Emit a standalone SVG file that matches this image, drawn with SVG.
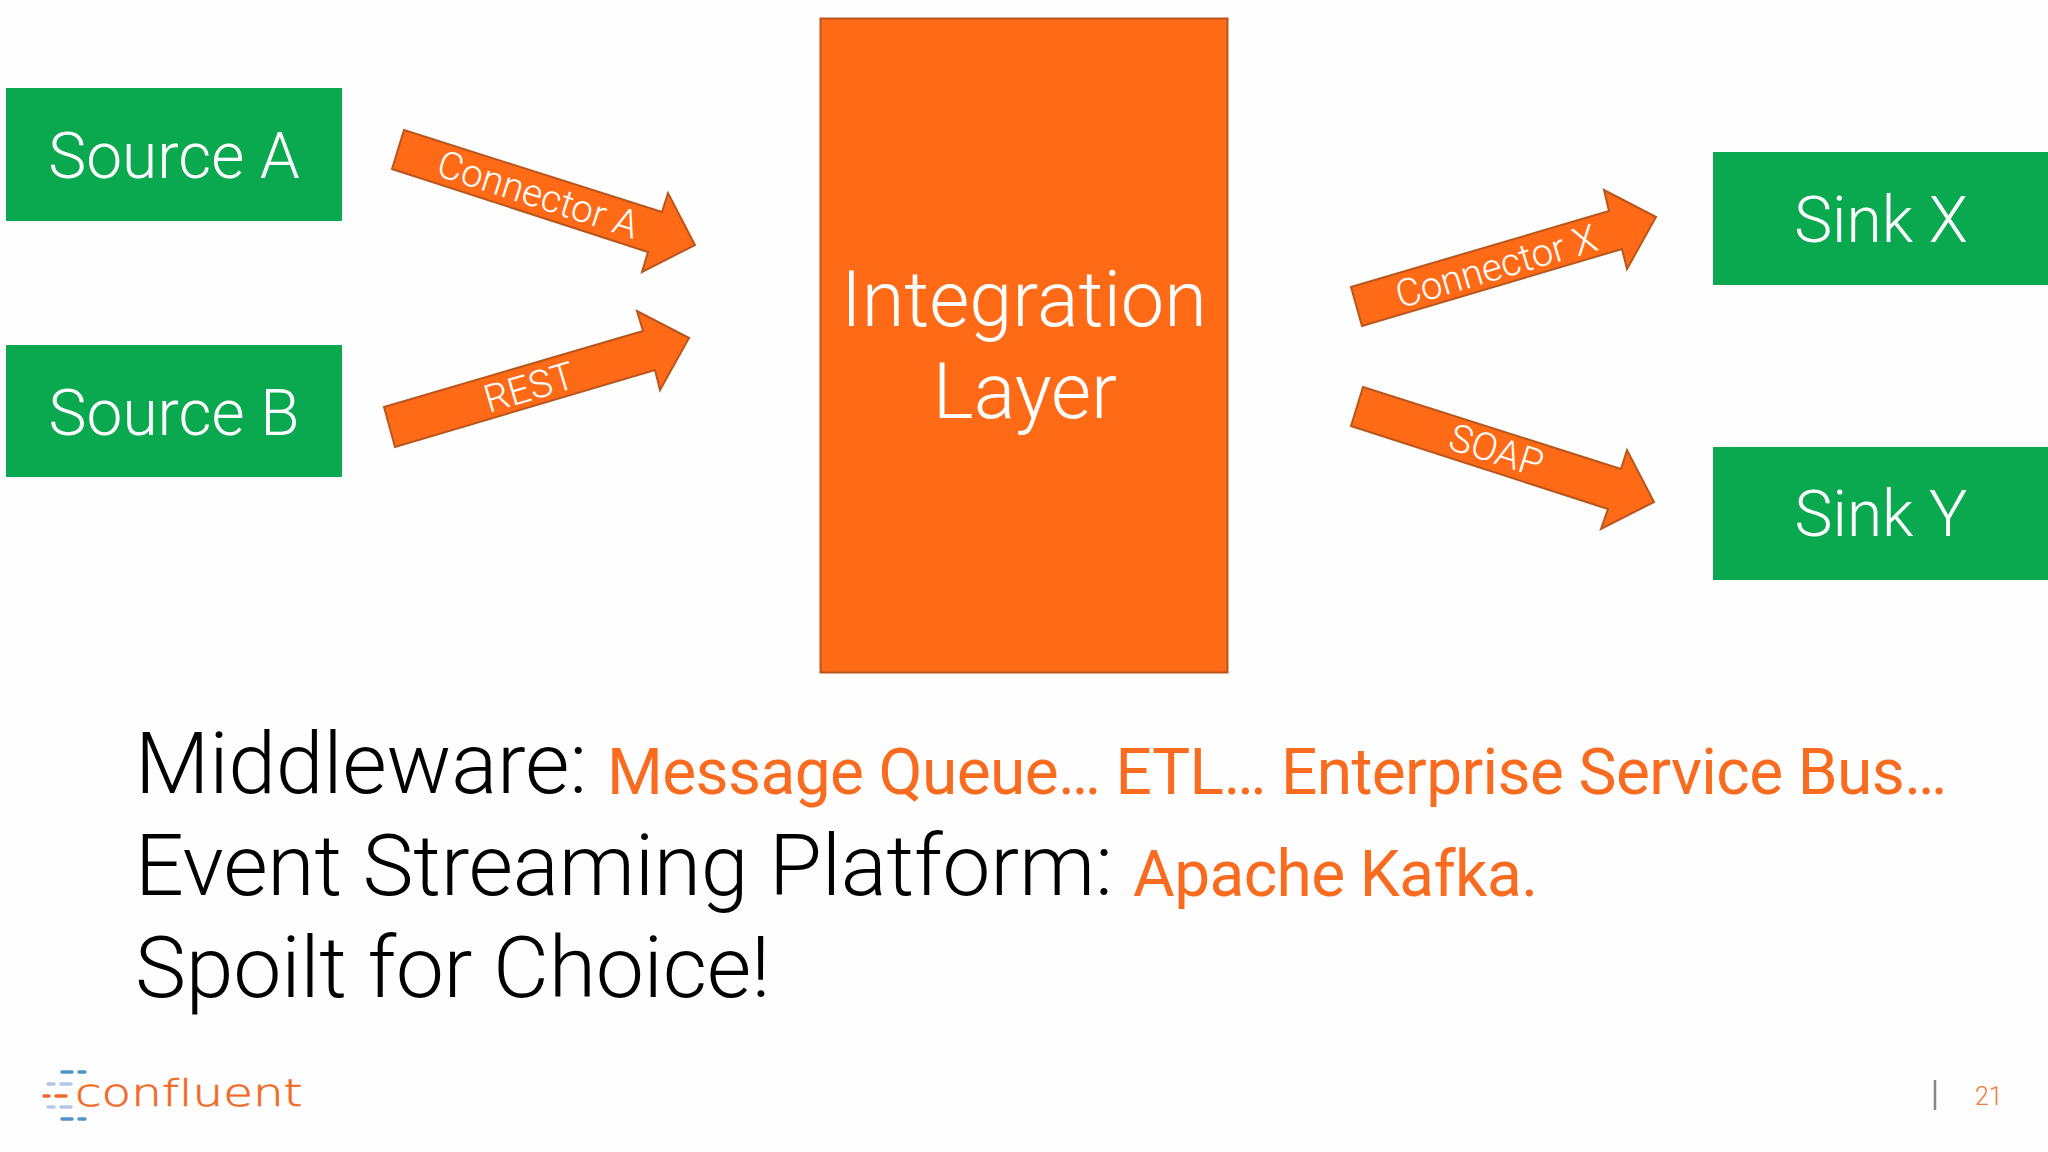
<svg xmlns="http://www.w3.org/2000/svg" width="2048" height="1152" viewBox="0 0 2048 1152">
<style>
text{font-family:Roboto,"Liberation Sans",sans-serif;font-weight:300}
.box{fill:#0aa84f}
.lbl{fill:#fff;font-size:64px;text-anchor:middle}
.arrow{fill:#ff6a16;stroke:#b9561c;stroke-width:2;stroke-linejoin:miter}
.al{fill:#fff;font-size:38.5px;text-anchor:middle}
.big{font-size:86px;fill:#000;letter-spacing:-.25px}
.or{font-size:64px;fill:#f96b1e;font-weight:400}
.il{fill:#fff;font-size:77.5px;text-anchor:middle}
.d1{stroke:#4f94c8;stroke-width:3.5;stroke-linecap:round}
.d2{stroke:#b4c8e6;stroke-width:3.5;stroke-linecap:round}
.d3{stroke:#f26a26;stroke-width:3.5;stroke-linecap:round}
</style>
<rect width="2048" height="1152" fill="#fefefe"/>
<g id="source-a"><rect class="box" x="6" y="88" width="336" height="133"/><text class="lbl" x="174" y="178">Source A</text></g>
<g id="source-b"><rect class="box" x="6" y="345" width="336" height="132"/><text class="lbl" x="174" y="435">Source B</text></g>
<g id="integration-layer"><rect x="820.5" y="18.5" width="407" height="654" fill="#ff6a16" stroke="#b9561c" stroke-width="2"/><text class="il" x="1024" y="326">Integration</text><text class="il" x="1025" y="418">Layer</text></g>
<g id="sink-x"><rect class="box" x="1713" y="152" width="335" height="133"/><text class="lbl" x="1881" y="242">Sink X</text></g>
<g id="sink-y"><rect class="box" x="1713" y="447" width="335" height="133"/><text class="lbl" x="1881" y="536">Sink Y</text></g>
<g id="connectors">
<g id="connector-a"><polygon class="arrow" points="404,130 662,212 668,193 695,245 642,272 648,252 392,169"/><text class="al" transform="translate(534,207) rotate(17.8)">Connector A</text></g>
<g id="rest"><polygon class="arrow" points="384,407 643,331 637,311 689,338 660,390 655,370 395,447"/><text class="al" transform="translate(533,400) rotate(-16.5)">REST</text></g>
<g id="connector-x"><polygon class="arrow" points="1351,287 1609,211 1604,190 1656,217 1627,269 1622,249 1362,326"/><text class="al" transform="translate(1500,279) rotate(-16.5)">Connector X</text></g>
<g id="soap"><polygon class="arrow" points="1363,387 1621,469 1627,450 1654,502 1601,529 1608,509 1351,426"/><text class="al" transform="translate(1492.500,463) rotate(17.6)">SOAP</text></g>
</g>
<text class="big" x="135" y="793">Middleware:</text>
<text class="or" x="607" y="794" textLength="1340" lengthAdjust="spacing">Message Queue… ETL… Enterprise Service Bus…</text>
<text class="big" x="135" y="895">Event Streaming Platform:</text>
<text class="or" x="1133" y="896" textLength="405" lengthAdjust="spacing">Apache Kafka.</text>
<text class="big" x="135" y="997">Spoilt for Choice!</text>
<g id="logo">
<line class="d1" x1="62" y1="1072" x2="72" y2="1072"/><line class="d1" x1="79" y1="1072" x2="85" y2="1072"/>
<line class="d2" x1="48" y1="1084" x2="54" y2="1084"/><line class="d2" x1="61" y1="1084" x2="71" y2="1084"/>
<line class="d3" x1="44" y1="1096" x2="49" y2="1096"/><line class="d3" x1="56" y1="1096" x2="66" y2="1096"/>
<line class="d2" x1="48" y1="1107" x2="54" y2="1107"/><line class="d2" x1="61" y1="1107" x2="71" y2="1107"/>
<line class="d1" x1="62" y1="1119" x2="72" y2="1119"/><line class="d1" x1="79" y1="1119" x2="85" y2="1119"/>
<text transform="translate(75,1106) scale(1.275,1)" font-size="38" fill="#f26a26" stroke="#f26a26" stroke-width=".6" style="font-family:'DejaVu Sans',sans-serif;font-weight:200;font-variant-ligatures:none">confluent</text>
</g>
<line x1="1935" y1="1080" x2="1935" y2="1110" stroke="#85858a" stroke-width="2.5"/>
<text x="1975" y="1105" font-size="25" fill="#ef7a3c">21</text>
</svg>
